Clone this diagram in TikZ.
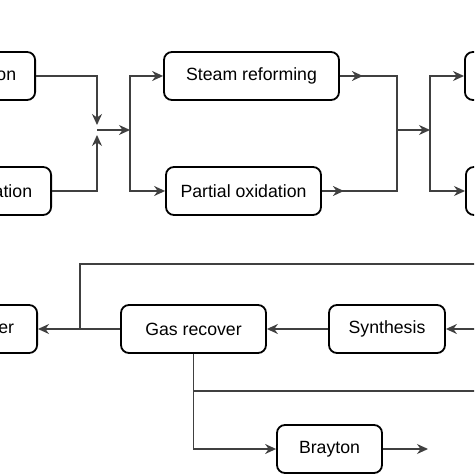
\documentclass[tikz,border=0pt]{standalone}
\usepackage{fontspec}
\setmainfont{Liberation Sans}
\usetikzlibrary{arrows.meta}

\begin{document}
\begin{tikzpicture}[
  x=0.5pt, y=-0.5pt,
  font=\fontsize{8.85}{10.6}\selectfont,
  stage/.style={draw, line width=0.9pt, rounded corners=4pt, minimum height=24pt, inner sep=0pt},
  cutstage/.style={stage, anchor=east, inner xsep=9.5pt, text width=60pt, align=right},
  flow/.style={draw=black!75, line width=0.7pt},
  tip/.style={-{Stealth[length=5.5pt,width=5pt]}}]
\useasboundingbox (0,0) rectangle (474,474);
\clip (0,0) rectangle (474,474);

% upper row
\node[cutstage] (onbox) at (36,76) {on};
\node[cutstage] (ationbox) at (52,191) {ation};
\node[stage, minimum width=87.5pt] (steam) at (251.5,76) {Steam reforming};
\node[stage, minimum width=77.5pt] (partial) at (243.5,191) {Partial oxidation};
\node[stage, anchor=west, minimum width=80pt] (rtop) at (464,76) {};
\node[stage, anchor=west, minimum width=80pt] (rbot) at (465,191) {};

\coordinate (jl) at (97,130);
\coordinate (sl) at (130,130);
\coordinate (jr) at (397,130);
\coordinate (sr) at (430,130);

\draw[flow,tip,shorten >=2.5pt] (onbox.east) -| (jl);
\draw[flow,tip,shorten >=2.5pt] (ationbox.east) -| (jl);
\draw[flow,tip] (jl) -- (sl);
\draw[flow,tip] (sl) |- (steam.west);
\draw[flow,tip] (sl) |- (partial.west);

\draw[flow] (steam.east) -| (jr);
\draw[flow] (partial.east) -| (jr);
\draw[flow,tip] (steam.east) -- ++(23,0);
\draw[flow,tip] (partial.east) -- ++(22,0);
\draw[flow,tip] (jr) -- (sr);
\draw[flow,tip] (sr) |- (rtop.west);
\draw[flow,tip] (sr) |- (rbot.west);

% lower row
\node[cutstage, inner xsep=11.5pt] (erbox) at (38,329) {er};
\node[stage, minimum width=72.5pt] (gas) at (193.5,329) {Gas recover};
\node[stage, minimum width=58pt] (syn) at (387,329) {Synthesis};
\node[stage, minimum width=52.5pt] (brayton) at (329.5,449) {Brayton};

\coordinate (tee) at (80,329);
\coordinate (loop) at (80,264);
\coordinate (loopend) at (490,264);
\coordinate (feed) at (490,329);
\coordinate (splitend) at (490,391);
\coordinate (out) at (428,449);

\draw[flow,tip] (gas.west) -- (erbox.east);
\draw[flow] (tee) -- (loop) -- (loopend);
\draw[flow,tip] (syn.west) -- (gas.east);
\draw[flow,tip] (feed) -- (syn.east);
\draw[flow,tip] (gas.south) |- (brayton.west);
\draw[flow] (gas.south |- splitend) -- (splitend);
\draw[flow,tip] (brayton.east) -- (out);
\end{tikzpicture}
\end{document}
